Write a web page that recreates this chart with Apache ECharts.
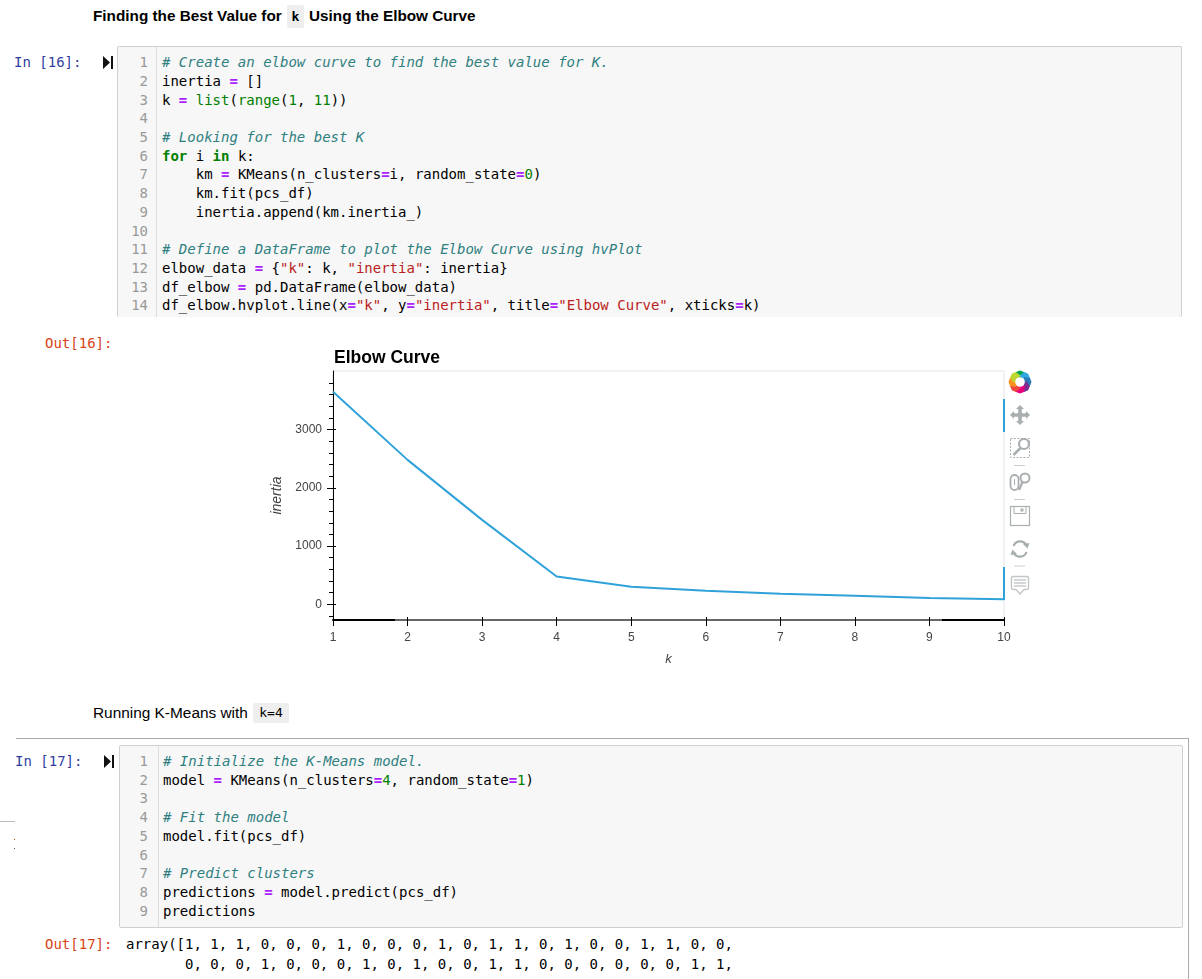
<!DOCTYPE html>
<html lang="en">
<head>
<meta charset="UTF-8">
<title>Elbow Curve</title>
<style>
  html, body { margin: 0; padding: 0; background: #fff; overflow: hidden; }
  body { width: 1202px; height: 979px; position: relative; font-family: "Liberation Sans", sans-serif; color: #000; }
  .abs { position: absolute; }
  .mono { font-family: "DejaVu Sans Mono", monospace; font-size: 14px; white-space: pre; }
  .code { line-height: 18.72px; color: #000; }
  .nums { line-height: 18.72px; color: #999; text-align: right; width: 30px; }
  .inbox { background: #f7f7f7; border: 1px solid #cfcfcf; border-radius: 2px; box-sizing: border-box; }
  .in { color: #303f9f; }
  .out { color: #d84315; }
  .inline { background: #eee; border-radius: 2px; font-family: "DejaVu Sans Mono", monospace; font-size: 13px; text-align: center; }
  .c { color: #2f8080; font-style: italic; }
  .k { color: #008000; font-weight: bold; }
  .o { color: #aa22ff; font-weight: bold; }
  .n { color: #008000; }
  .s { color: #ba2121; }
  #elbow { left: 260px; top: 340px; width: 760px; height: 340px; }
</style>
</head>
<body>
  <div class="abs" style="left:93px;top:7px;font-size:15.3px;font-weight:bold;line-height:18px;white-space:nowrap;">Finding the Best Value for</div>
  <div class="abs inline" style="left:287px;top:5px;width:17px;height:23px;line-height:23px;font-weight:bold;">k</div>
  <div class="abs" style="left:309px;top:7px;font-size:15.3px;font-weight:bold;line-height:18px;white-space:nowrap;">Using the Elbow Curve</div>

  <div class="abs mono in" style="left:14px;top:53px;line-height:18px;">In [16]:</div>
  <svg class="abs" style="left:102px;top:55px;" width="12" height="15"><path d="M1 1 L8 7.5 L1 14 Z M9 1 H11 V14 H9 Z" fill="#111"/></svg>
  <div class="abs inbox" style="left:117px;top:46px;width:1065px;height:271px;border-bottom:none;"></div>
  <div class="abs" style="left:156px;top:47px;width:1px;height:270px;background:#ddd;"></div>
  <div class="abs mono nums" style="left:118px;top:53.1px;">1
2
3
4
5
6
7
8
9
10
11
12
13
14</div>
  <div class="abs mono code" style="left:162px;top:53.1px;"><span class="c"># Create an elbow curve to find the best value for K.</span>
inertia <span class="o">=</span> []
k <span class="o">=</span> <span class="n">list</span>(<span class="n">range</span>(<span class="n">1</span>, <span class="n">11</span>))

<span class="c"># Looking for the best K</span>
<span class="k">for</span> i <span class="k">in</span> k:
    km <span class="o">=</span> KMeans(n_clusters<span class="o">=</span>i, random_state<span class="o">=</span><span class="n">0</span>)
    km.fit(pcs_df)
    inertia.append(km.inertia_)

<span class="c"># Define a DataFrame to plot the Elbow Curve using hvPlot</span>
elbow_data <span class="o">=</span> {<span class="s">"k"</span>: k, <span class="s">"inertia"</span>: inertia}
df_elbow <span class="o">=</span> pd.DataFrame(elbow_data)
df_elbow.hvplot.line(x<span class="o">=</span><span class="s">"k"</span>, y<span class="o">=</span><span class="s">"inertia"</span>, title<span class="o">=</span><span class="s">"Elbow Curve"</span>, xticks<span class="o">=</span>k)</div>

  <div class="abs mono out" style="left:45px;top:334px;line-height:18px;">Out[16]:</div>

  <div id="elbow" class="abs"></div>

  <!-- bokeh toolbar -->
  <div class="abs" style="left:1003px;top:399px;width:2px;height:33px;background:#30a2da;"></div>
  <div class="abs" style="left:1003px;top:567px;width:2px;height:33px;background:#30a2da;"></div>
  <svg class="abs" style="left:1008px;top:370px;" width="24" height="226" fill="none" stroke="#a9aeb0">
    <g id="logo" transform="translate(12 12)" stroke="none"></g>
    <!-- pan -->
    <g transform="translate(12 45)" stroke="none" fill="#a9aeb0">
      <path d="M0 -10 L4 -6 H1.8 V-1.8 H6 V-4 L10 0 L6 4 V1.8 H1.8 V6 H4 L0 10 L-4 6 H-1.8 V1.8 H-6 V4 L-10 0 L-6 -4 V-1.8 H-1.8 V-6 H-4 Z"/>
    </g>
    <!-- box zoom -->
    <rect x="2.5" y="68.5" width="19" height="19" stroke-dasharray="2 1.5" stroke-width="1"/>
    <circle cx="16" cy="74" r="5" stroke-width="2.2" fill="#fff"/>
    <path d="M12.5 78 L5.5 85" stroke-width="2.6"/>
    <path d="M6 95.5 H17" stroke="#ccc"/>
    <!-- wheel zoom -->
    <rect x="2.5" y="105" width="8" height="15" rx="4" stroke-width="1.8"/>
    <path d="M6.5 109 V115" stroke-width="1"/>
    <circle cx="17" cy="108" r="4.5" stroke-width="2"/>
    <path d="M14.5 112 L11 120" stroke-width="2.2"/>
    <path d="M6 129.5 H17" stroke="#ccc"/>
    <!-- save -->
    <rect x="2.5" y="136.5" width="19" height="19" stroke-width="1.2"/>
    <path d="M6 137 V143.5 H18 V137" stroke-width="1"/>
    <rect x="12.5" y="138.5" width="3" height="3" fill="#a9aeb0" stroke="none"/>
    <!-- reset -->
    <path d="M5.5 176 A7 7 0 0 1 18 174.5" stroke-width="2.2"/>
    <path d="M18.5 182 A7 7 0 0 1 6 183.5" stroke-width="2.2"/>
    <path d="M21.5 173 L15 174 L19.5 178.5 Z M2.5 185 L9 184 L4.5 179.5 Z" fill="#a9aeb0" stroke="none"/>
    <path d="M6 196 H17" stroke="#ccc"/>
    <!-- hover -->
    <path d="M5 206.5 H19 A1.5 1.5 0 0 1 20.5 208 V218 A1.5 1.5 0 0 1 19 219.5 H16 L12 224 L8 219.5 H5 A1.5 1.5 0 0 1 3.5 218 V208 A1.5 1.5 0 0 1 5 206.5 Z" stroke-width="1.4" stroke="#c3c6c8"/>
    <path d="M6 210 H18 M6 213 H18 M6 216 H18" stroke-width="1.2"/>
  </svg>

  <div class="abs" style="left:93px;top:704px;font-size:15.4px;line-height:18px;white-space:nowrap;">Running K-Means with</div>
  <div class="abs inline" style="left:253px;top:703px;width:36px;height:20px;line-height:20px;">k=4</div>

  <!-- selected cell outline -->
  <div class="abs" style="left:16px;top:738px;width:1172px;height:241px;border-top:1px solid #ababab;border-right:1px solid #ababab;"></div>
  <div class="abs" style="left:0;top:821px;width:15px;height:1px;background:#bbb;"></div>
  <div class="abs" style="left:14px;top:839px;width:1px;height:1px;background:#d84315;"></div>
  <div class="abs" style="left:14px;top:848px;width:1px;height:1px;background:#555;"></div>

  <div class="abs mono in" style="left:15px;top:752px;line-height:18px;">In [17]:</div>
  <svg class="abs" style="left:103px;top:754px;" width="12" height="15"><path d="M1 1 L8 7.5 L1 14 Z M9 1 H11 V14 H9 Z" fill="#111"/></svg>
  <div class="abs inbox" style="left:119px;top:745px;width:1064px;height:183px;"></div>
  <div class="abs" style="left:158px;top:746px;width:1px;height:181px;background:#ddd;"></div>
  <div class="abs mono nums" style="left:118px;top:752px;">1
2
3
4
5
6
7
8
9</div>
  <div class="abs mono code" style="left:163px;top:752px;"><span class="c"># Initialize the K-Means model.</span>
model <span class="o">=</span> KMeans(n_clusters<span class="o">=</span><span class="n">4</span>, random_state<span class="o">=</span><span class="n">1</span>)

<span class="c"># Fit the model</span>
model.fit(pcs_df)

<span class="c"># Predict clusters</span>
predictions <span class="o">=</span> model.predict(pcs_df)
predictions</div>

  <div class="abs mono out" style="left:45px;top:935px;line-height:18px;">Out[17]:</div>
  <div class="abs mono" style="left:126px;top:934px;line-height:20px;">array([1, 1, 1, 0, 0, 0, 1, 0, 0, 0, 1, 0, 1, 1, 0, 1, 0, 0, 1, 1, 0, 0,
       0, 0, 0, 1, 0, 0, 0, 1, 0, 1, 0, 0, 1, 1, 0, 0, 0, 0, 0, 0, 1, 1,</div>

  <script src="https://cdn.jsdelivr.net/npm/echarts@6/dist/echarts.min.js"></script>
  <script>
    var kValues = [1, 2, 3, 4, 5, 6, 7, 8, 9, 10];
    var inertiaValues = [3650, 2480, 1450, 477, 300, 232, 180, 146, 110, 87];
    var yMajorTicks = [0, 1000, 2000, 3000];
    var yMinorTicks = [-200, 200, 400, 600, 800, 1200, 1400, 1600, 1800, 2200, 2400, 2600, 2800, 3200, 3400, 3600, 3800];

    var fontName = '"Liberation Sans", sans-serif';
    var yMin = -269, yMax = 4006;

    // colour ring of the bokeh logo
    var logoColors = ['#00a651', '#2ea9df', '#2b7bb9', '#7b2d8e', '#e6007e', '#f0453a', '#f7931e', '#bed630'];
    var logo = '';
    logoColors.forEach(function (c, i) {
      logo += '<path d="M-4 -10 L0 -11.5 L4 -10 L5 -4 L-5 -4 Z" transform="rotate(' + (i * 45) + ')" fill="' + c + '"/>';
    });
    logo += '<circle r="4.8" fill="#fff"/>';
    document.getElementById('logo').innerHTML = logo;

    var elbowChart = echarts.init(document.getElementById('elbow'));

    // axis pieces that only draw ticks: same scale, no line, no label
    function tickOnlyY(values, len, inside) {
      return {
        type: 'value', min: yMin, max: yMax, position: 'left',
        axisLine: { show: false, onZero: false },
        axisLabel: { show: false },
        splitLine: { show: false },
        axisTick: { show: true, inside: inside, length: len, customValues: values, lineStyle: { color: '#000', width: 1 } }
      };
    }

    var option = {
      animation: false,
      title: {
        text: 'Elbow Curve', left: 74, top: 9, padding: 0,
        textStyle: { fontFamily: fontName, fontSize: 17.5, fontWeight: 'bold', color: '#000' }
      },
      grid: {
        left: 73, top: 31, width: 671, height: 249,
        show: true, borderColor: '#e5e5e5', borderWidth: 1, containLabel: false,
        outerBoundsMode: 'none'
      },
      xAxis: [{
        type: 'value', min: 1, max: 10, interval: 1, position: 'bottom',
        name: 'k', nameLocation: 'middle', nameGap: 33,
        nameTextStyle: { fontFamily: fontName, fontStyle: 'italic', fontSize: 13, color: '#444' },
        splitLine: { show: false },
        axisLine: {
          onZero: false,
          lineStyle: {
            width: 2,
            color: {
              type: 'linear', x: 73, y: 0, x2: 744, y2: 0, global: true,
              colorStops: [
                { offset: 0, color: '#000' }, { offset: 0.092, color: '#000' },
                { offset: 0.092, color: '#666' }, { offset: 0.908, color: '#666' },
                { offset: 0.908, color: '#000' }, { offset: 1, color: '#000' }
              ]
            }
          }
        },
        axisTick: { length: 6, customValues: kValues, lineStyle: { color: '#000', width: 1 } },
        axisLabel: { margin: 12, fontFamily: fontName, fontSize: 12, color: '#444' }
      }, {
        type: 'value', min: 1, max: 10, position: 'bottom',
        axisLine: { show: false, onZero: false },
        axisLabel: { show: false },
        splitLine: { show: false },
        axisTick: { show: true, inside: true, length: 3, customValues: kValues, lineStyle: { color: '#000', width: 1 } }
      }],
      yAxis: [{
        type: 'value', min: yMin, max: yMax, position: 'left',
        name: 'inertia', nameLocation: 'middle', nameGap: 46, nameRotate: 90,
        nameTextStyle: { fontFamily: fontName, fontStyle: 'italic', fontSize: 14, color: '#444' },
        splitLine: { show: false },
        axisLine: { show: true, onZero: false, lineStyle: { color: '#000', width: 1 } },
        axisTick: { show: true, length: 6, customValues: yMajorTicks, lineStyle: { color: '#000', width: 1 } },
        axisLabel: {
          margin: 11, customValues: yMajorTicks, fontFamily: fontName, fontSize: 12, color: '#444',
          formatter: function (v) { return String(v); }
        }
      }, tickOnlyY(yMinorTicks, 4, false), tickOnlyY(yMajorTicks, 3, true)],
      series: [{
        type: 'line',
        xAxisIndex: 0,
        yAxisIndex: 0,
        symbol: 'none',
        lineStyle: { color: '#30a2da', width: 2 },
        data: kValues.map(function (k, i) { return [k, inertiaValues[i]]; })
      }]
    };

    elbowChart.setOption(option);
  </script>
</body>
</html>
